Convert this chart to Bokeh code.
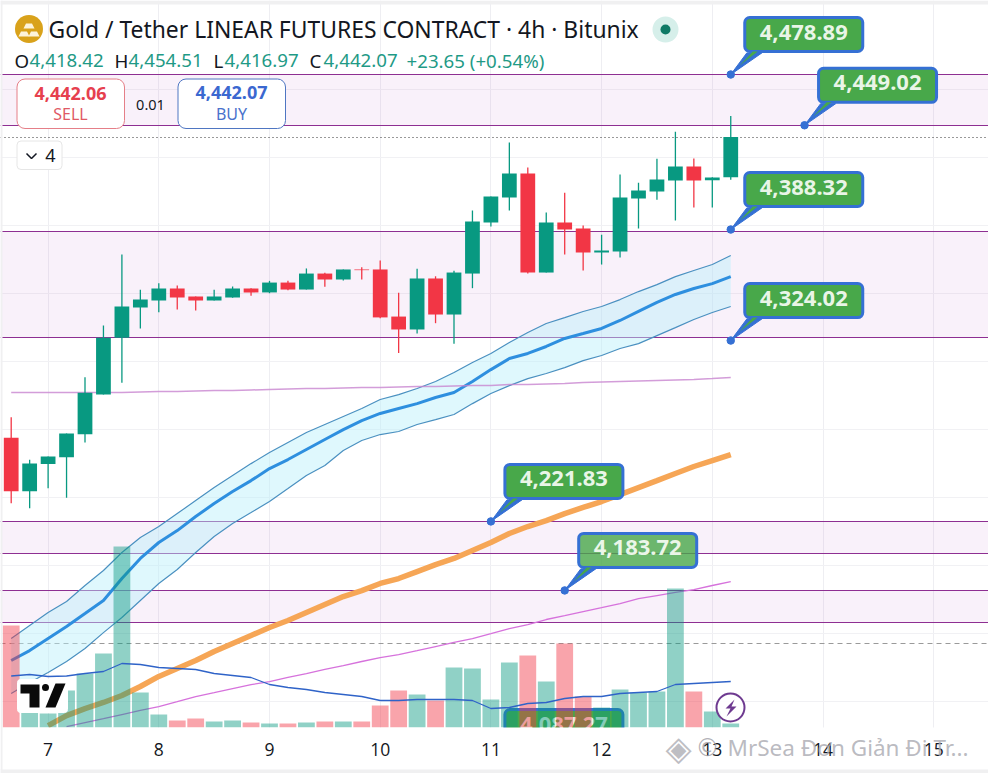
from bokeh.plotting import figure
from bokeh.embed import file_html
from bokeh.resources import INLINE
from bokeh.models import Range1d, FixedTicker, Grid, Label
from bokeh.core.properties import value
import numpy as np

# ---- candles ----
opens = [4265.2,4233.8,4249.7,4253.8,4267.3,4290.7,4324.0,4341.8,4345.9,4353.0,4348.3,4345.9,4347.7,4353.0,4350.7,4356.5,4352.4,4361.8,4358.3,4364.2,
         4364.2,4336.5,4328.9,4358.9,4337.7,4361.8,4391.8,4406.5,4420.7,4362.4,4391.8,4388.3,4374.2,4374.8,4406.0,4410.1,4416.5,4424.8,4416.7,4418.42]
highs = [4277.3,4252.2,4254.2,4267.7,4300.8,4331.2,4373.0,4352.2,4356.1,4354.8,4348.3,4352.2,4354.2,4353.2,4357.5,4357.5,4364.8,4362.2,4364.2,4365.5,
         4369.5,4350.5,4364.6,4360.2,4363.4,4398.9,4407.1,4438.9,4424.2,4397.7,4409.3,4390.1,4384.6,4420.1,4415.2,4429.3,4445.2,4429.5,4418.5,4454.51]
lows = [4226.7,4223.8,4235.5,4229.9,4262.4,4290.7,4297.5,4329.5,4339.1,4340.7,4340.1,4345.9,4347.5,4348.7,4350.2,4352.0,4352.4,4354.0,4357.7,4358.3,
        4335.5,4315.0,4326.5,4332.6,4320.5,4353.2,4389.5,4398.9,4361.8,4362.4,4373.0,4363.6,4367.1,4371.2,4388.3,4405.2,4393.0,4400.7,4400.7,4416.97]
closes = [4233.8,4250.1,4254.2,4267.7,4291.7,4324.0,4342.4,4346.5,4353.0,4347.7,4345.9,4348.3,4353.0,4350.7,4356.5,4352.4,4361.8,4358.3,4364.2,4363.8,
          4336.0,4328.9,4358.9,4337.7,4362.4,4392.4,4407.1,4420.7,4362.4,4391.8,4387.7,4374.2,4375.4,4406.5,4410.7,4417.1,4424.8,4416.5,4418.3,4442.07]
# ---- volume (pane units) ----
volumes = [102,36,14,37,54,74,181,35,13,7,9,6,7,5,4,4,5,6,6,6,22,37,33,27,60,59,28,65,72,46,84,31,20,38,35,36,139,36,16,4]
vol_ma = [51.5,53,51,51.5,54,56,64,63,60,59,58,54,52,50,43,40,38,35,33,31,27,27,28,28,28,27,19,20,24,25,29,31,31,34,35,36,43,44,45,46]
# ---- overlays ----
ema_mid = [4134.2,4140.0,4147.1,4154.2,4161.8,4169.5,4182.4,4194.2,4203.6,4210.6,4218.9,4226.5,4233.6,4240.0,4247.1,4252.4,4258.3,4264.2,4270.0,4275.3,
           4279.5,4282.4,4285.3,4288.9,4291.8,4298.3,4305.3,4311.8,4314.8,4318.9,4323.6,4326.5,4329.5,4334.2,4339.5,4344.8,4349.5,4353.0,4355.9,4360.0]
band_up = [4147.1,4154.8,4162.4,4168.9,4178.3,4187.1,4197.7,4206.5,4213.0,4220.6,4228.3,4235.9,4243.0,4250.0,4256.5,4262.4,4268.3,4273.0,4277.7,4282.4,
           4287.7,4290.6,4294.2,4298.3,4303.6,4309.5,4314.8,4321.2,4327.1,4332.4,4335.9,4339.5,4342.4,4346.5,4351.2,4355.3,4360.0,4363.6,4367.1,4372.4]
band_lo = [4114.8,4121.2,4127.1,4133.6,4141.2,4150.6,4159.5,4169.5,4179.5,4187.7,4197.7,4207.1,4214.8,4221.2,4227.7,4235.3,4243.0,4248.9,4257.7,4263.6,
           4267.1,4268.9,4273.0,4275.9,4278.9,4285.3,4291.2,4295.9,4300.0,4303.0,4306.5,4310.6,4313.6,4317.7,4320.6,4325.3,4330.0,4334.8,4338.9,4342.4]
orange_ma = [4095.9,4101.8,4105.9,4109.5,4113.6,4118.9,4124.8,4129.5,4134.2,4139.5,4144.2,4148.9,4153.6,4157.7,4162.4,4167.1,4171.8,4175.3,4179.5,4182.4,
             4186.5,4190.6,4194.2,4198.9,4203.6,4208.9,4213.0,4216.5,4220.6,4224.2,4227.7,4231.8,4235.9,4240.0,4244.2,4248.3,4251.8,4255.3]
pink_ma = [4095.3,4097.7,4100.0,4102.4,4104.8,4107.1,4110.0,4113.0,4115.3,4117.7,4120.0,4121.8,4124.2,4126.5,4128.9,4131.2,4133.6,4135.9,4137.7,4140.0,
           4142.4,4144.8,4147.1,4150.0,4153.0,4155.3,4158.3,4160.6,4163.0,4165.3,4167.7,4170.6,4172.4,4174.2,4175.9,4178.3,4180.6]
slow_ma = [4291.8,4291.8,4291.8,4291.8,4291.8,4291.8,4291.8,4292.1,4292.4,4292.4,4292.7,4293.0,4293.0,4293.3,4293.6,4293.9,4294.2,4294.2,4294.5,4294.8,
           4294.8,4295.1,4295.3,4295.3,4295.6,4295.9,4295.9,4296.5,4296.5,4296.8,4297.1,4297.7,4298.0,4298.3,4298.6,4298.9,4299.2,4299.5,4300.0,4300.6]
# ---- zones and levels ----
zone_top = [4478.89,4386.5,4216.0,4175.4]
zone_bottom = [4448.6,4323.9,4197.1,4156.5]
last_close = 4442.07
vol_ma_guide = 4144.2
# ---- callouts ----
call_text = ["4,478.89","4,449.02","4,388.32","4,324.02","4,221.83","4,183.72"]
call_x = [39,43,39,39,26,30]
call_y = [4478.89,4449.02,4387.7,4322.4,4216.0,4175.4]
call_alpha = [1,1,1,1,1,0.8]
hidden_text = "4,087.27"
hidden_x = 26
hidden_y = 4071.8
# ---- axis ----
day_pos = [2,8,14,20,26,32,38,44,50]
day_labels = ["7","8","9","10","11","12","13","14","15"]

PXX = 18.45   # px per candle
PXY = 1.7     # px per price unit
WIDTH, HEIGHT = 988, 773
PANE_BOTTOM = 727
xs = np.arange(len(opens))
x_start = -10.7/PXX
y_top = 4522.42
y_bot = 4522.42-HEIGHT/PXY

def X(px): return x_start+px/PXX
def Y(py): return y_top-py/PXY

p = figure(width=WIDTH, height=HEIGHT, output_backend="svg", toolbar_location=None,
           x_range=Range1d(x_start, x_start+WIDTH/PXX), y_range=Range1d(y_bot, y_top),
           min_border_left=0, min_border_right=0, min_border_top=0, min_border_bottom=0,
           y_axis_location=None, background_fill_color="white", border_fill_color="white",
           outline_line_color=None)
p.extra_y_ranges = {"vol": Range1d(PANE_BOTTOM-HEIGHT, PANE_BOTTOM)}

p.xaxis.fixed_location = Y(PANE_BOTTOM)
p.xaxis.ticker = FixedTicker(ticks=day_pos)
p.xaxis.major_label_overrides = {k: v for k, v in zip(day_pos, day_labels)}
p.xaxis.axis_line_color = None
p.xaxis.major_tick_line_color = None
p.xaxis.minor_tick_line_color = None
p.xaxis.major_label_text_font = "Open Sans"
p.xaxis.major_label_text_font_size = "17.5px"
p.xaxis.major_label_text_color = "#131722"
p.xaxis.major_label_standoff = 9
p.xgrid.grid_line_color = "#eeeef2"
p.ygrid.visible = False
p.add_layout(Grid(dimension=1, ticker=FixedTicker(ticks=[4070+40*k for k in range(11)]), grid_line_color="#f1f1f4"))

# zones
for t, b in zip(zone_top, zone_bottom):
    p.hstrip(y0=[b], y1=[t], fill_color="#b050c0", fill_alpha=0.08, line_color=None)
    p.hspan(y=[t, b], line_color="#8e2f92", line_width=1.2)
p.hspan(y=[last_close], line_color="#333333", line_width=1, line_dash="1 3")
p.hspan(y=[vol_ma_guide], line_color="#9a9a9a", line_width=1, line_dash="5 4")

# overlays
p.varea(xs, band_lo, band_up, fill_color="#b8f0fb", fill_alpha=0.45)
p.line(xs, band_up, line_color="#4a90c0", line_width=1.2)
p.line(xs, band_lo, line_color="#4a90c0", line_width=1.2)
p.line(xs, ema_mid, line_color="#2e8fdf", line_width=3)
p.line(xs, slow_ma, line_color="#c884cf", line_width=1.5, line_alpha=0.8)
p.line(xs[2:], orange_ma, line_color="#f6a656", line_width=5.5)
p.line(xs[3:], pink_ma, line_color="#d672dc", line_width=1.3)

BLUE = "#3570d4"
GREEN = "#48a84a"

def callouts(tx, ax, ay, alphas):
    ax = np.array(ax, float); ay = np.array(ay, float)
    p.patches([[a, a+16/PXX, a+31/PXX] for a in ax], [[b, b+21.5/PXY, b+21.5/PXY] for b in ay],
              fill_color=BLUE, line_color=BLUE, line_width=1)
    p.quad(left=ax+14/PXX, right=ax+132/PXX, top=ay+57/PXY, bottom=ay+23/PXY,
           fill_color=GREEN, fill_alpha=alphas, line_color=BLUE, line_width=3, border_radius=5)
    p.patches([[a+9/PXX, a+22/PXX, a+27/PXX] for a in ax], [[b+9/PXY, b+23/PXY, b+23/PXY] for b in ay],
              fill_color=GREEN, line_color=None)
    p.scatter(ax, ay, size=7.5, fill_color=BLUE, line_color=BLUE)
    p.text(ax+73/PXX, ay+42.5/PXY, text=tx, text_color="#f4fbf2", text_align="center", text_baseline="middle",
           text_font=value("Noto Sans"), text_font_style="bold", text_font_size="22px", text_alpha=0.95)

callouts([hidden_text], [hidden_x], [hidden_y], [1])

# volume
vol_colors = ["#089981" if c >= o else "#f23645" for o, c in zip(opens, closes)]
p.vbar(x=xs, top=volumes, bottom=0, width=0.91, fill_color=vol_colors, fill_alpha=0.45, line_color=None, y_range_name="vol")
p.line(xs, vol_ma, line_color="#2f63c8", line_width=1.3, y_range_name="vol")

# candles
p.segment(xs, highs, xs, lows, line_color=vol_colors, line_width=1.3)
p.quad(left=xs-0.4, right=xs+0.4,
       top=[max(o, c) for o, c in zip(opens, closes)], bottom=[min(o, c) for o, c in zip(opens, closes)],
       fill_color=vol_colors, line_color=None)

# time-axis strip: everything above is cut off at the pane's bottom edge
p.quad(left=[X(0)], right=[X(WIDTH)], top=[Y(PANE_BOTTOM)], bottom=[Y(HEIGHT)], fill_color="white", line_color=None)

callouts(call_text, call_x, call_y, call_alpha)

# ---- chart furniture ----
def poly(pts, color, **kw):
    p.patch([X(a) for a, _ in pts], [Y(b) for _, b in pts], fill_color=color, line_color=None, **kw)

def label(px, py, txt, size, color="#131722", align="left", font="Noto Sans", style="normal", alpha=1.0):
    p.add_layout(Label(x=X(px), y=Y(py), text=txt, text_font=font, text_font_size=f"{size}px", text_color=color,
                       text_align=align, text_baseline="middle", text_font_style=style, text_alpha=alpha))

def box(l, r, t, b, line, radius=6, width=1):
    p.quad(left=[X(l)], right=[X(r)], top=[Y(t)], bottom=[Y(b)], fill_color="white", line_color=line,
           line_width=width, border_radius=radius)

# window edges
for l, r, t, b in [(0, WIDTH, 0, 4), (0, 2, 0, HEIGHT), (0, WIDTH, 769, HEIGHT)]:
    p.quad(left=[X(l)], right=[X(r)], top=[Y(t)], bottom=[Y(b)], fill_color="#f0f0f1", line_color=None)

# title row
p.scatter([X(28.5)], [Y(28.5)], size=28, fill_color="#d9a21b", line_color=None)
for a, b in [(23, 23), (18, 31), (28, 31)]:
    poly([(a+2.5, b), (a+8.5, b), (a+11, b+5), (a, b+5)], "#fdf3da")
label(48, 29, "Gold / Tether LINEAR FUTURES CONTRACT · 4h · Bitunix", 22.9)
p.scatter([X(665)], [Y(29)], size=26, fill_color="#d6efea", line_color=None)
p.scatter([X(665)], [Y(29)], size=10, fill_color="#0f7a66", line_color=None)

# OHLC row
TEAL = "#1f9a86"
for px, t, c in [(14, "O", "#131722"), (29, "4,418.42", TEAL), (114, "H", "#131722"), (128, "4,454.51", TEAL),
                 (213, "L", "#131722"), (224, "4,416.97", TEAL), (309, "C", "#131722"), (323, "4,442.07", TEAL),
                 (406, "+23.65 (+0.54%)", TEAL)]:
    label(px, 59.5, t, 18.7, color=c)

# trade buttons
box(16.5, 124, 78.5, 128, "#e57f88", radius=8)
label(70, 93, "4,442.06", 18, color="#e6404e", align="center", style="bold")
label(70, 113, "SELL", 16, color="#e05a66", align="center")
label(150, 104, "0.01", 14.5, align="center")
box(177.5, 285, 78.5, 128, "#4f76c2", radius=8)
label(231, 92, "4,442.07", 18, color="#3b68d0", align="center", style="bold")
label(231, 113, "BUY", 16, color="#4a72cc", align="center")

# collapse button
box(16.5, 61.5, 140.5, 169, "#e6e6e6", radius=4)
p.line([X(26), X(31), X(36)], [Y(153), Y(158), Y(153)], line_color="#131722", line_width=1.5)
label(50, 155, "4", 18, align="center")

# TradingView mark
box(17, 67, 679, 712, "white", radius=3)
poly([(20, 684), (39, 684), (39, 707), (29, 707), (29, 693), (20, 693)], "#0a0a0a")
p.scatter([X(45)], [Y(687)], size=7, fill_color="#0a0a0a", line_color=None)
poly([(55, 683), (65, 683), (55, 707), (45, 707)], "#0a0a0a")

# lightning mark
p.scatter([X(730)], [Y(707)], size=28, fill_color="white", fill_alpha=0.9, line_color="#6e3a90", line_width=2)
poly([(734, 699), (725, 708), (730, 708), (726, 716), (736, 706), (731, 706)], "#6e3a90")

# watermark
label(678, 747, "◈", 34, color="#a9a9b0", font="DejaVu Sans", align="center", alpha=0.75)
label(707, 747, "©", 24, color="#9d9da5", font="DejaVu Sans", align="center", alpha=0.8)
label(727, 747, "MrSea Đơn Giản Đi Tr...", 22.5, color="#a9a9b0", alpha=0.8)

open("out.html", "w").write(file_html(p, INLINE))
